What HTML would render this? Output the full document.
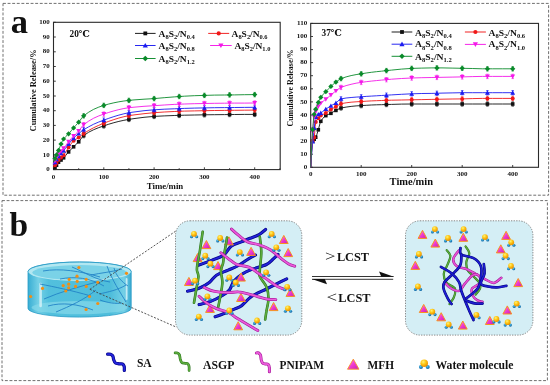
<!DOCTYPE html>
<html><head><meta charset="utf-8"><title>Figure</title>
<style>html,body{margin:0;padding:0;background:#fff}svg{display:block}text{font-family:"Liberation Serif","DejaVu Serif","Noto Serif CJK SC",serif;fill:#111}.c{fill:none;stroke-linecap:round;stroke-linejoin:round}</style>
</head><body>
<svg width="550" height="385" viewBox="0 0 550 385">
<rect width="550" height="385" fill="#fff"/>
<defs>
<radialGradient id="gy" cx="0.38" cy="0.32" r="0.7"><stop offset="0" stop-color="#fff27a"/><stop offset="0.45" stop-color="#ffc916"/><stop offset="1" stop-color="#e88a00"/></radialGradient>
<radialGradient id="gb" cx="0.4" cy="0.35" r="0.7"><stop offset="0" stop-color="#4fc4ee"/><stop offset="1" stop-color="#075a9c"/></radialGradient>
<linearGradient id="gt" x1="0" y1="0" x2="1" y2="1"><stop offset="0" stop-color="#ff8ae6"/><stop offset="0.5" stop-color="#f03cd0"/><stop offset="1" stop-color="#c81eb0"/></linearGradient>
<g id="w"><circle cx="-2.5" cy="2.9" r="1.55" fill="url(#gb)"/><circle cx="2.7" cy="2.9" r="1.55" fill="url(#gb)"/><circle cx="0" cy="0" r="2.9" fill="url(#gy)"/></g>
<path id="t" d="M0 0L4.4 8.1L-4.4 8.1Z" fill="url(#gt)" stroke="#f7931e" stroke-width="1" stroke-linejoin="round"/>
<linearGradient id="cylb" x1="0" y1="0" x2="1" y2="0"><stop offset="0" stop-color="#38add3"/><stop offset="0.1" stop-color="#74d0e6"/><stop offset="0.2" stop-color="#52c0dd"/><stop offset="0.8" stop-color="#4ebddb"/><stop offset="0.93" stop-color="#74d0e6"/><stop offset="1" stop-color="#38a9d0"/></linearGradient>
<path id="c1" class="c" d="M198.4 265.2C200.7 264.4 208.0 261.8 212.2 260.1C216.4 258.4 220.7 257.3 223.8 255.0C227.0 252.7 228.2 248.5 231.1 246.3C234.0 244.1 238.2 243.2 241.3 241.9C244.5 240.6 247.0 239.5 250.0 238.3C253.0 237.1 256.5 236.1 259.1 234.6C261.7 233.1 264.5 230.3 265.6 229.5"/>
<path id="c2" class="c" d="M187.5 291.2C189.4 290.7 195.5 289.8 199.1 288.3C202.7 286.9 206.4 284.7 209.3 282.5C212.2 280.3 213.3 277.3 216.5 275.2C219.7 273.1 224.5 271.7 228.2 270.1C231.8 268.5 234.9 267.4 238.4 265.5C241.9 263.6 246.1 260.4 248.9 258.6C251.8 256.9 254.4 255.6 255.5 255.0"/>
<path id="c3" class="c" d="M199.1 304.6C201.0 304.1 206.8 302.9 210.7 301.4C214.6 299.9 219.2 297.4 222.4 295.5C225.6 293.6 227.7 292.1 229.6 289.7C231.5 287.3 231.8 283.7 234.0 281.0C236.2 278.3 239.7 275.6 242.7 273.7C245.7 271.8 247.9 270.9 251.8 269.4C255.8 267.9 262.8 266.3 266.4 264.5C270.0 262.7 271.7 260.3 273.6 258.6C275.5 256.9 277.3 255.0 278.0 254.3"/>
<path id="c4" class="c" d="M215.1 316.8C216.8 316.2 221.9 314.4 225.3 313.0C228.7 311.6 232.8 309.8 235.5 308.6C238.2 307.4 238.9 307.8 241.6 305.7C244.3 303.6 247.7 299.1 251.8 296.3C255.9 293.5 262.0 291.2 266.4 289.0C270.8 286.8 274.6 284.9 278.0 283.2C281.4 281.5 285.2 279.5 286.7 278.8"/>
<path id="c5" class="c" d="M202.7 231.7C202.5 233.3 201.8 237.9 201.3 241.2C200.8 244.5 200.4 247.8 199.8 251.4C199.2 255.0 198.1 259.9 197.6 263.0C197.1 266.1 196.8 267.7 196.9 270.0C197.0 272.3 198.5 273.3 198.4 276.6C198.3 279.9 196.9 285.3 196.2 289.7C195.5 294.1 194.4 300.6 194.0 302.8"/>
<path id="c6" class="c" d="M227.0 237.5C226.8 238.6 226.5 241.3 226.0 244.1C225.5 246.9 224.6 251.2 224.1 254.3C223.6 257.4 223.6 260.2 223.1 263.0C222.6 265.8 221.0 267.6 220.9 270.8C220.8 274.1 222.5 278.1 222.4 282.5C222.3 286.9 220.9 292.8 220.2 297.0C219.5 301.2 218.4 306.1 218.0 307.9"/>
<path id="c7" class="c" d="M259.8 236.8C260.1 239.2 261.2 247.0 261.3 251.4C261.4 255.8 260.8 259.9 260.5 263.0C260.2 266.1 259.9 267.7 259.8 270.0C259.7 272.3 258.7 273.8 259.8 276.6C260.9 279.4 264.9 283.2 266.4 286.8C267.8 290.4 268.5 294.4 268.5 298.5C268.5 302.6 266.9 308.0 266.4 311.5C265.8 315.0 265.4 318.2 265.2 319.5"/>
<path id="c8" class="c" d="M231.5 229.1C232.7 230.2 236.0 233.3 238.7 235.4C241.4 237.5 244.1 240.3 247.5 241.9C250.9 243.5 255.2 243.5 259.1 244.8C263.0 246.1 267.3 247.8 270.7 249.9C274.1 252.0 276.6 254.9 279.5 257.2C282.4 259.5 285.7 262.2 288.2 263.7C290.7 265.2 293.6 265.8 294.7 266.2"/>
<path id="c9" class="c" d="M220.9 252.8C222.1 253.8 225.5 256.7 228.2 258.6C230.9 260.6 233.4 263.1 236.9 264.5C240.4 265.9 245.2 265.7 248.9 267.2C252.6 268.7 255.7 271.4 259.1 273.7C262.5 276.0 266.2 278.8 269.3 281.0C272.4 283.2 275.3 285.4 278.0 286.8C280.7 288.2 284.1 289.2 285.3 289.7"/>
<path id="c10" class="c" d="M204.2 287.5C205.8 288.1 209.6 290.3 213.6 291.2C217.6 292.1 224.1 292.5 228.2 292.6C232.3 292.7 234.9 291.6 238.4 291.9C241.9 292.1 245.4 293.2 248.9 294.1C252.4 295.0 256.0 296.1 259.1 297.0C262.2 297.9 265.0 298.8 267.8 299.2C270.6 299.6 274.5 299.5 275.8 299.6"/>
<path id="c11" class="c" d="M199.1 296.3C200.3 297.4 203.5 300.8 206.4 302.8C209.3 304.9 212.8 307.0 216.5 308.6C220.2 310.2 225.3 311.0 228.5 312.5C231.7 314.0 233.7 316.1 235.8 317.5C237.9 318.9 237.6 318.6 241.3 320.8C245.0 323.0 255.1 329.0 257.8 330.6"/>
<path id="c12" class="c" d="M446.7 250.2C447.3 251.2 450.3 253.6 450.4 256.0C450.5 258.4 448.6 261.8 447.5 264.7C446.4 267.6 444.1 270.6 443.8 273.5C443.6 276.4 444.6 280.0 446.0 282.2C447.4 284.4 450.9 285.3 452.5 286.5C454.1 287.7 455.1 287.7 455.3 289.5C455.5 291.3 454.8 295.1 453.8 297.5C452.8 299.9 450.2 302.9 449.5 304.0"/>
<path id="c13" class="c" d="M465.6 246.5C466.2 247.6 469.2 250.5 469.3 253.1C469.4 255.7 466.6 258.9 466.4 261.8C466.1 264.7 466.6 268.1 467.8 270.5C469.0 272.9 471.7 274.3 473.6 276.4C475.6 278.5 478.4 280.9 479.5 283.0C480.6 285.1 480.6 286.8 480.0 288.7C479.4 290.6 476.3 293.5 475.6 294.5"/>
<path id="c14" class="c" d="M459.1 250.2C458.1 251.6 453.7 256.2 453.3 258.9C452.9 261.6 454.7 264.5 456.9 266.2C459.1 267.9 463.4 267.9 466.4 269.1C469.4 270.3 472.0 271.8 475.1 273.5C478.2 275.2 482.2 277.7 485.3 279.3C488.4 280.9 491.3 283.1 494.0 282.9C496.7 282.6 500.1 278.6 501.3 277.8"/>
<path id="c15" class="c" d="M444.5 282.2C445.5 283.2 448.0 286.6 450.4 288.0C452.8 289.4 456.7 291.6 459.1 290.9C461.5 290.2 462.7 286.2 464.9 283.6C467.1 281.1 470.0 277.1 472.2 275.6C474.4 274.2 476.6 273.8 478.0 274.9C479.4 276.0 481.9 279.9 480.9 282.2C479.9 284.5 473.3 286.4 472.0 288.7C470.7 291.0 472.1 294.1 473.0 296.0C473.9 297.9 475.9 299.4 477.5 300.4C479.1 301.4 481.7 301.6 482.5 301.8"/>
<path id="c16" class="c" d="M460.5 248.0C460.6 249.1 459.1 252.8 461.3 254.5C463.5 256.2 470.3 256.2 473.6 258.2C476.9 260.1 479.7 262.9 480.9 266.2C482.1 269.5 481.4 274.2 480.9 277.8C480.4 281.4 479.6 285.2 478.0 288.0C476.4 290.8 473.4 292.7 471.3 294.5C469.2 296.3 466.5 298.2 465.5 298.9"/>
<path id="c17" class="c" d="M461.3 254.5C461.2 256.2 461.8 261.5 460.5 264.7C459.2 267.9 456.0 270.6 453.3 273.5C450.6 276.4 446.1 279.7 444.5 282.2C442.9 284.7 443.0 285.9 443.6 288.7C444.2 291.5 446.7 296.3 448.0 298.9C449.3 301.4 451.0 303.1 451.6 304.0"/>
<path id="c18" class="c" d="M440.9 266.9C442.7 268.0 448.8 270.9 451.8 273.5C454.8 276.1 457.6 279.4 459.1 282.2C460.7 285.0 460.0 286.9 461.1 290.2C462.2 293.5 464.1 298.2 465.5 301.8C466.9 305.4 468.5 309.0 469.8 312.0C471.1 315.0 472.9 318.7 473.5 320.0"/>
<path id="c19" class="c" d="M483.8 264.0C483.9 265.6 485.0 270.2 484.5 273.5C484.0 276.8 480.3 281.4 480.9 283.6C481.5 285.8 485.5 285.9 488.2 286.5C490.9 287.1 493.9 287.4 496.9 287.3C499.9 287.2 504.8 286.1 506.4 285.8"/>
<path id="c20" class="c" d="M465.8 300.4C467.2 300.9 471.7 302.8 474.5 303.3C477.3 303.8 481.2 303.6 482.5 303.6"/>
<path id="c21" class="c" d="M107.6 354.2C108.1 354.2 109.6 354.0 110.5 354.3C111.4 354.6 112.2 355.1 112.8 356.0C113.3 356.9 113.3 358.8 113.8 360.0C114.2 361.2 114.6 362.4 115.5 363.0C116.4 363.6 117.8 363.6 119.0 363.8C120.2 364.0 121.6 363.6 122.5 364.0C123.4 364.4 123.9 365.4 124.2 366.5C124.5 367.6 124.3 369.8 124.3 370.5"/>
<path id="c22" class="c" d="M175.1 352.9C175.5 352.9 176.8 352.7 177.5 353.0C178.3 353.3 179.0 353.8 179.5 354.9C179.9 355.9 179.9 357.9 180.3 359.2C180.7 360.4 181.0 361.7 181.7 362.4C182.5 363.1 183.7 363.1 184.7 363.3C185.7 363.5 186.9 363.0 187.6 363.5C188.3 364.0 188.8 365.0 189.0 366.2C189.3 367.4 189.1 369.8 189.1 370.5"/>
<path id="c23" class="c" d="M256.4 352.9C256.8 352.9 258.0 352.7 258.7 353.0C259.3 353.4 260.0 353.9 260.5 355.0C260.9 356.1 260.9 358.3 261.2 359.6C261.6 360.9 261.9 362.3 262.6 363.1C263.2 363.8 264.4 363.8 265.3 364.0C266.2 364.2 267.3 363.7 268.0 364.2C268.7 364.7 269.1 365.8 269.3 367.1C269.6 368.3 269.4 370.9 269.4 371.7"/></defs>
<rect x="3" y="3.4" width="545.6" height="191.8" fill="none" stroke="#707070" stroke-width="1" stroke-dasharray="2.9 1.7"/>
<rect x="2" y="200.6" width="545.4" height="180" fill="none" stroke="#707070" stroke-width="1" stroke-dasharray="2.9 1.7"/>
<text x="10.8" y="33.3" font-size="34.5" font-weight="bold">a</text>
<text x="9.4" y="235.6" font-size="33.5" font-weight="bold">b</text>
<rect x="53.5" y="22.3" width="226.7" height="147.3" fill="#fff" stroke="#2a2a2a" stroke-width="1.1"/>
<text x="49.6" y="171.2" font-size="6.9" font-weight="bold" text-anchor="end">0</text>
<text x="49.6" y="156.5" font-size="6.9" font-weight="bold" text-anchor="end">10</text>
<text x="49.6" y="141.7" font-size="6.9" font-weight="bold" text-anchor="end">20</text>
<text x="49.6" y="127.0" font-size="6.9" font-weight="bold" text-anchor="end">30</text>
<text x="49.6" y="112.3" font-size="6.9" font-weight="bold" text-anchor="end">40</text>
<text x="49.6" y="97.5" font-size="6.9" font-weight="bold" text-anchor="end">50</text>
<text x="49.6" y="82.8" font-size="6.9" font-weight="bold" text-anchor="end">60</text>
<text x="49.6" y="68.1" font-size="6.9" font-weight="bold" text-anchor="end">70</text>
<text x="49.6" y="53.3" font-size="6.9" font-weight="bold" text-anchor="end">80</text>
<text x="49.6" y="38.6" font-size="6.9" font-weight="bold" text-anchor="end">90</text>
<text x="49.6" y="23.9" font-size="6.9" font-weight="bold" text-anchor="end">100</text>
<text x="53.5" y="178.6" font-size="6.9" font-weight="bold" text-anchor="middle">0</text>
<text x="103.8" y="178.6" font-size="6.9" font-weight="bold" text-anchor="middle">100</text>
<text x="154.1" y="178.6" font-size="6.9" font-weight="bold" text-anchor="middle">200</text>
<text x="204.4" y="178.6" font-size="6.9" font-weight="bold" text-anchor="middle">300</text>
<text x="254.7" y="178.6" font-size="6.9" font-weight="bold" text-anchor="middle">400</text>
<path d="M53.5 169.6h2.3M53.5 154.9h2.3M53.5 140.1h2.3M53.5 125.4h2.3M53.5 110.7h2.3M53.5 96.0h2.3M53.5 81.2h2.3M53.5 66.5h2.3M53.5 51.8h2.3M53.5 37.0h2.3M53.5 22.3h2.3M53.5 169.6v-2.3M103.8 169.6v-2.3M154.1 169.6v-2.3M204.4 169.6v-2.3M254.7 169.6v-2.3M78.7 169.6v-1.4M128.9 169.6v-1.4M179.2 169.6v-1.4M229.6 169.6v-1.4M279.9 169.6v-1.4" stroke="#2a2a2a" stroke-width="0.9" fill="none"/>
<text transform="translate(35.5 90.4) rotate(-90)" font-size="8.6" font-weight="bold" text-anchor="middle" textLength="82.0" lengthAdjust="spacingAndGlyphs">Cumulative Release/%</text>
<text x="165.0" y="188.7" font-size="9.0" font-weight="bold" text-anchor="middle" textLength="36.5" lengthAdjust="spacingAndGlyphs">Time/min</text>
<text x="69.5" y="36.5" font-size="9.3" font-weight="bold">20℃</text>
<path d="M53.5 168.9L54.0 168.4L54.5 168.0L55.0 167.4L55.5 166.7L56.0 166.0L56.5 165.2L57.0 164.4L57.5 163.6L58.0 162.9L58.5 162.2L59.0 161.7L59.5 161.3L60.0 160.9L60.5 160.4L61.0 160.0L61.5 159.6L62.1 159.2L62.6 158.7L63.1 158.3L63.6 157.8L65.6 155.6L67.6 153.1L69.6 150.8L71.6 148.8L73.6 146.8L75.6 144.8L77.6 142.8L79.7 140.5L81.7 137.8L83.7 135.6L88.7 132.2L93.7 129.7L98.8 127.6L103.8 125.9L108.8 124.2L113.9 122.7L118.9 121.4L123.9 120.3L128.9 119.4L134.0 118.6L144.0 117.3L154.1 116.4L164.2 115.9L174.2 115.5L184.3 115.2L194.3 115.0L204.4 114.8L214.5 114.7L224.5 114.6L234.6 114.5L244.6 114.4L254.7 114.4" fill="none" stroke="#111111" stroke-width="0.9" stroke-linejoin="round"/>
<path d="M83.7 133.4v4.4M82.4 133.4h2.6M82.4 137.8h2.6M103.8 123.7v4.4M102.5 123.7h2.6M102.5 128.1h2.6M128.9 117.2v4.4M127.6 117.2h2.6M127.6 121.6h2.6M154.1 114.2v4.4M152.8 114.2h2.6M152.8 118.6h2.6M179.2 113.2v4.4M177.9 113.2h2.6M177.9 117.6h2.6M204.4 112.6v4.4M203.1 112.6h2.6M203.1 117.0h2.6M229.6 112.3v4.4M228.2 112.3h2.6M228.2 116.7h2.6M254.7 112.2v4.4M253.4 112.2h2.6M253.4 116.6h2.6" stroke="#111111" stroke-width="0.6" fill="none"/>
<rect x="53.2" y="165.6" width="3.6" height="3.6" fill="#111111"/><rect x="54.7" y="163.4" width="3.6" height="3.6" fill="#111111"/><rect x="56.7" y="160.4" width="3.6" height="3.6" fill="#111111"/><rect x="59.2" y="158.2" width="3.6" height="3.6" fill="#111111"/><rect x="61.8" y="156.0" width="3.6" height="3.6" fill="#111111"/><rect x="66.8" y="150.1" width="3.6" height="3.6" fill="#111111"/><rect x="71.8" y="145.0" width="3.6" height="3.6" fill="#111111"/><rect x="76.9" y="140.0" width="3.6" height="3.6" fill="#111111"/><rect x="81.9" y="133.8" width="3.6" height="3.6" fill="#111111"/><rect x="102.0" y="124.1" width="3.6" height="3.6" fill="#111111"/><rect x="127.1" y="117.6" width="3.6" height="3.6" fill="#111111"/><rect x="152.3" y="114.6" width="3.6" height="3.6" fill="#111111"/><rect x="177.4" y="113.6" width="3.6" height="3.6" fill="#111111"/><rect x="202.6" y="113.0" width="3.6" height="3.6" fill="#111111"/><rect x="227.8" y="112.7" width="3.6" height="3.6" fill="#111111"/><rect x="252.9" y="112.6" width="3.6" height="3.6" fill="#111111"/>
<path d="M53.5 167.4L54.0 166.7L54.5 165.9L55.0 165.2L55.5 164.4L56.0 163.7L56.5 163.0L57.0 162.2L57.5 161.4L58.0 160.7L58.5 160.0L59.0 159.5L59.5 158.9L60.0 158.5L60.5 158.0L61.0 157.5L61.5 157.1L62.1 156.6L62.6 156.2L63.1 155.7L63.6 155.2L65.6 152.3L67.6 149.0L69.6 146.0L71.6 143.0L73.6 140.7L75.6 139.4L77.6 138.3L79.7 136.9L81.7 135.1L83.7 133.5L88.7 130.4L93.7 127.7L98.8 125.3L103.8 123.2L108.8 121.3L113.9 119.6L118.9 118.0L123.9 116.7L128.9 115.7L134.0 114.9L144.0 113.7L154.1 112.7L164.2 112.0L174.2 111.5L184.3 111.1L194.3 110.9L204.4 110.7L214.5 110.5L224.5 110.4L234.6 110.3L244.6 110.2L254.7 110.1" fill="none" stroke="#f01818" stroke-width="0.9" stroke-linejoin="round"/>
<path d="M83.7 131.3v4.4M82.4 131.3h2.6M82.4 135.7h2.6M103.8 121.0v4.4M102.5 121.0h2.6M102.5 125.4h2.6M128.9 113.5v4.4M127.6 113.5h2.6M127.6 117.9h2.6M154.1 110.5v4.4M152.8 110.5h2.6M152.8 114.9h2.6M179.2 109.1v4.4M177.9 109.1h2.6M177.9 113.5h2.6M204.4 108.5v4.4M203.1 108.5h2.6M203.1 112.9h2.6M229.6 108.2v4.4M228.2 108.2h2.6M228.2 112.6h2.6M254.7 107.9v4.4M253.4 107.9h2.6M253.4 112.3h2.6" stroke="#f01818" stroke-width="0.6" fill="none"/>
<circle cx="55.0" cy="165.2" r="2.0" fill="#f01818"/><circle cx="56.5" cy="163.0" r="2.0" fill="#f01818"/><circle cx="58.5" cy="160.0" r="2.0" fill="#f01818"/><circle cx="61.0" cy="157.5" r="2.0" fill="#f01818"/><circle cx="63.6" cy="155.2" r="2.0" fill="#f01818"/><circle cx="68.6" cy="147.5" r="2.0" fill="#f01818"/><circle cx="73.6" cy="140.7" r="2.0" fill="#f01818"/><circle cx="78.7" cy="137.6" r="2.0" fill="#f01818"/><circle cx="83.7" cy="133.5" r="2.0" fill="#f01818"/><circle cx="103.8" cy="123.2" r="2.0" fill="#f01818"/><circle cx="128.9" cy="115.7" r="2.0" fill="#f01818"/><circle cx="154.1" cy="112.7" r="2.0" fill="#f01818"/><circle cx="179.2" cy="111.3" r="2.0" fill="#f01818"/><circle cx="204.4" cy="110.7" r="2.0" fill="#f01818"/><circle cx="229.6" cy="110.4" r="2.0" fill="#f01818"/><circle cx="254.7" cy="110.1" r="2.0" fill="#f01818"/>
<path d="M53.5 165.2L54.0 164.2L54.5 163.2L55.0 162.2L55.5 161.2L56.0 160.2L56.5 159.3L57.0 158.5L57.5 157.7L58.0 157.0L58.5 156.3L59.0 155.7L59.5 155.1L60.0 154.5L60.5 154.0L61.0 153.4L61.5 152.9L62.1 152.3L62.6 151.8L63.1 151.3L63.6 150.7L65.6 148.2L67.6 145.4L69.6 142.9L71.6 140.4L73.6 138.2L75.6 136.3L77.6 134.5L79.7 132.8L81.7 131.1L83.7 129.7L88.7 126.8L93.7 124.2L98.8 122.0L103.8 120.1L108.8 118.3L113.9 116.6L118.9 115.1L123.9 113.8L128.9 112.7L134.0 112.0L144.0 110.7L154.1 109.8L164.2 109.2L174.2 108.8L184.3 108.4L194.3 108.1L204.4 107.9L214.5 107.7L224.5 107.6L234.6 107.5L244.6 107.4L254.7 107.3" fill="none" stroke="#1c1cf0" stroke-width="0.9" stroke-linejoin="round"/>
<path d="M83.7 127.5v4.4M82.4 127.5h2.6M82.4 131.9h2.6M103.8 117.9v4.4M102.5 117.9h2.6M102.5 122.3h2.6M128.9 110.5v4.4M127.6 110.5h2.6M127.6 114.9h2.6M154.1 107.6v4.4M152.8 107.6h2.6M152.8 112.0h2.6M179.2 106.4v4.4M177.9 106.4h2.6M177.9 110.8h2.6M204.4 105.7v4.4M203.1 105.7h2.6M203.1 110.1h2.6M229.6 105.4v4.4M228.2 105.4h2.6M228.2 109.8h2.6M254.7 105.1v4.4M253.4 105.1h2.6M253.4 109.5h2.6" stroke="#1c1cf0" stroke-width="0.6" fill="none"/>
<path d="M55.0 159.8L57.4 164.2L52.6 164.2Z" fill="#1c1cf0"/><path d="M56.5 156.9L58.9 161.2L54.1 161.2Z" fill="#1c1cf0"/><path d="M58.5 153.9L61.0 158.3L56.1 158.3Z" fill="#1c1cf0"/><path d="M61.0 151.0L63.5 155.3L58.6 155.3Z" fill="#1c1cf0"/><path d="M63.6 148.3L66.0 152.7L61.1 152.7Z" fill="#1c1cf0"/><path d="M68.6 141.7L71.0 146.1L66.2 146.1Z" fill="#1c1cf0"/><path d="M73.6 135.8L76.1 140.2L71.2 140.2Z" fill="#1c1cf0"/><path d="M78.7 131.2L81.1 135.6L76.2 135.6Z" fill="#1c1cf0"/><path d="M83.7 127.3L86.1 131.6L81.2 131.6Z" fill="#1c1cf0"/><path d="M103.8 117.7L106.2 122.1L101.4 122.1Z" fill="#1c1cf0"/><path d="M128.9 110.3L131.4 114.7L126.5 114.7Z" fill="#1c1cf0"/><path d="M154.1 107.4L156.5 111.7L151.7 111.7Z" fill="#1c1cf0"/><path d="M179.2 106.2L181.7 110.6L176.8 110.6Z" fill="#1c1cf0"/><path d="M204.4 105.5L206.8 109.8L202.0 109.8Z" fill="#1c1cf0"/><path d="M229.6 105.2L232.0 109.5L227.1 109.5Z" fill="#1c1cf0"/><path d="M254.7 104.9L257.1 109.2L252.3 109.2Z" fill="#1c1cf0"/>
<path d="M53.5 163.7L54.0 162.7L54.5 161.7L55.0 160.8L55.5 159.8L56.0 158.8L56.5 157.8L57.0 156.8L57.5 155.9L58.0 154.9L58.5 154.1L59.0 153.5L59.5 152.9L60.0 152.3L60.5 151.8L61.0 151.2L61.5 150.6L62.1 150.0L62.6 149.4L63.1 148.8L63.6 148.2L65.6 145.7L67.6 143.0L69.6 140.6L71.6 138.2L73.6 136.0L75.6 134.0L77.6 132.1L79.7 129.8L81.7 127.0L83.7 124.7L88.7 121.1L93.7 118.2L98.8 115.9L103.8 114.1L108.8 112.4L113.9 110.9L118.9 109.6L123.9 108.5L128.9 107.7L134.0 107.2L144.0 106.3L154.1 105.7L164.2 105.0L174.2 104.4L184.3 104.0L194.3 103.7L204.4 103.5L214.5 103.3L224.5 103.2L234.6 103.1L244.6 103.1L254.7 103.0" fill="none" stroke="#f418e8" stroke-width="0.9" stroke-linejoin="round"/>
<path d="M83.7 122.5v4.4M82.4 122.5h2.6M82.4 126.9h2.6M103.8 111.9v4.4M102.5 111.9h2.6M102.5 116.3h2.6M128.9 105.5v4.4M127.6 105.5h2.6M127.6 109.9h2.6M154.1 103.5v4.4M152.8 103.5h2.6M152.8 107.9h2.6M179.2 102.0v4.4M177.9 102.0h2.6M177.9 106.4h2.6M204.4 101.3v4.4M203.1 101.3h2.6M203.1 105.7h2.6M229.6 101.0v4.4M228.2 101.0h2.6M228.2 105.4h2.6M254.7 100.8v4.4M253.4 100.8h2.6M253.4 105.2h2.6" stroke="#f418e8" stroke-width="0.6" fill="none"/>
<path d="M55.0 163.2L57.4 158.8L52.6 158.8Z" fill="#f418e8"/><path d="M56.5 160.2L58.9 155.9L54.1 155.9Z" fill="#f418e8"/><path d="M58.5 156.6L61.0 152.2L56.1 152.2Z" fill="#f418e8"/><path d="M61.0 153.6L63.5 149.2L58.6 149.2Z" fill="#f418e8"/><path d="M63.6 150.7L66.0 146.3L61.1 146.3Z" fill="#f418e8"/><path d="M68.6 144.2L71.0 139.8L66.2 139.8Z" fill="#f418e8"/><path d="M73.6 138.4L76.1 134.1L71.2 134.1Z" fill="#f418e8"/><path d="M78.7 133.4L81.1 129.1L76.2 129.1Z" fill="#f418e8"/><path d="M83.7 127.1L86.1 122.7L81.2 122.7Z" fill="#f418e8"/><path d="M103.8 116.5L106.2 112.1L101.4 112.1Z" fill="#f418e8"/><path d="M128.9 110.2L131.4 105.8L126.5 105.8Z" fill="#f418e8"/><path d="M154.1 108.1L156.5 103.7L151.7 103.7Z" fill="#f418e8"/><path d="M179.2 106.6L181.7 102.3L176.8 102.3Z" fill="#f418e8"/><path d="M204.4 105.9L206.8 101.5L202.0 101.5Z" fill="#f418e8"/><path d="M229.6 105.6L232.0 101.2L227.1 101.2Z" fill="#f418e8"/><path d="M254.7 105.5L257.1 101.1L252.3 101.1Z" fill="#f418e8"/>
<path d="M53.5 162.2L54.0 161.0L54.5 159.8L55.0 158.6L55.5 157.3L56.0 156.1L56.5 154.9L57.0 153.7L57.5 152.7L58.0 151.6L58.5 150.5L59.0 149.2L59.5 147.9L60.0 146.5L60.5 145.2L61.0 144.0L61.5 142.8L62.1 141.7L62.6 140.7L63.1 139.8L63.6 139.0L65.6 136.7L67.6 134.8L69.6 132.7L71.6 130.3L73.6 127.9L75.6 125.6L77.6 123.4L79.7 120.9L81.7 118.1L83.7 115.8L88.7 112.2L93.7 109.3L98.8 107.1L103.8 105.4L108.8 104.0L113.9 102.8L118.9 101.8L123.9 101.0L128.9 100.4L134.0 99.9L144.0 99.2L154.1 98.6L164.2 97.7L174.2 96.9L184.3 96.2L194.3 95.7L204.4 95.4L214.5 95.1L224.5 95.0L234.6 94.9L244.6 94.7L254.7 94.6" fill="none" stroke="#0a8a2a" stroke-width="0.9" stroke-linejoin="round"/>
<path d="M83.7 113.6v4.4M82.4 113.6h2.6M82.4 118.0h2.6M103.8 103.2v4.4M102.5 103.2h2.6M102.5 107.6h2.6M128.9 98.2v4.4M127.6 98.2h2.6M127.6 102.6h2.6M154.1 96.4v4.4M152.8 96.4h2.6M152.8 100.8h2.6M179.2 94.3v4.4M177.9 94.3h2.6M177.9 98.7h2.6M204.4 93.2v4.4M203.1 93.2h2.6M203.1 97.6h2.6M229.6 92.7v4.4M228.2 92.7h2.6M228.2 97.1h2.6M254.7 92.4v4.4M253.4 92.4h2.6M253.4 96.8h2.6" stroke="#0a8a2a" stroke-width="0.6" fill="none"/>
<path d="M55.0 155.9L57.6 158.6L55.0 161.2L52.4 158.6Z" fill="#0a8a2a"/><path d="M56.5 152.3L59.1 154.9L56.5 157.5L53.9 154.9Z" fill="#0a8a2a"/><path d="M58.5 147.8L61.1 150.5L58.5 153.1L55.9 150.5Z" fill="#0a8a2a"/><path d="M61.0 141.4L63.7 144.0L61.0 146.6L58.4 144.0Z" fill="#0a8a2a"/><path d="M63.6 136.4L66.2 139.0L63.6 141.6L61.0 139.0Z" fill="#0a8a2a"/><path d="M68.6 131.2L71.2 133.8L68.6 136.4L66.0 133.8Z" fill="#0a8a2a"/><path d="M73.6 125.3L76.2 127.9L73.6 130.5L71.0 127.9Z" fill="#0a8a2a"/><path d="M78.7 119.6L81.3 122.2L78.7 124.8L76.0 122.2Z" fill="#0a8a2a"/><path d="M83.7 113.2L86.3 115.8L83.7 118.4L81.1 115.8Z" fill="#0a8a2a"/><path d="M103.8 102.8L106.4 105.4L103.8 108.0L101.2 105.4Z" fill="#0a8a2a"/><path d="M128.9 97.8L131.6 100.4L128.9 103.0L126.3 100.4Z" fill="#0a8a2a"/><path d="M154.1 96.0L156.7 98.6L154.1 101.2L151.5 98.6Z" fill="#0a8a2a"/><path d="M179.2 93.9L181.9 96.5L179.2 99.1L176.6 96.5Z" fill="#0a8a2a"/><path d="M204.4 92.8L207.0 95.4L204.4 98.0L201.8 95.4Z" fill="#0a8a2a"/><path d="M229.6 92.3L232.2 94.9L229.6 97.5L226.9 94.9Z" fill="#0a8a2a"/><path d="M254.7 92.0L257.3 94.6L254.7 97.2L252.1 94.6Z" fill="#0a8a2a"/>
<path d="M135.0 33.4H155.6" stroke="#111111" stroke-width="0.95"/>
<rect x="143.4" y="31.5" width="3.8" height="3.8" fill="#111111"/>
<text x="158.6" y="36.5" font-size="8.8" font-weight="bold" textLength="36.2" lengthAdjust="spacingAndGlyphs">A<tspan font-size="6" dy="2.2">8</tspan><tspan dy="-2.2">S</tspan><tspan font-size="6" dy="2.2">2</tspan><tspan dy="-2.2">/N</tspan><tspan font-size="6" dy="2.2">0.4</tspan></text>
<path d="M208.2 33.4H229.2" stroke="#f01818" stroke-width="0.95"/>
<circle cx="218.7" cy="33.4" r="2.1" fill="#f01818"/>
<text x="231.6" y="36.5" font-size="8.8" font-weight="bold" textLength="36.0" lengthAdjust="spacingAndGlyphs">A<tspan font-size="6" dy="2.2">8</tspan><tspan dy="-2.2">S</tspan><tspan font-size="6" dy="2.2">2</tspan><tspan dy="-2.2">/N</tspan><tspan font-size="6" dy="2.2">0.6</tspan></text>
<path d="M135.0 45.5H155.6" stroke="#1c1cf0" stroke-width="0.95"/>
<path d="M145.3 42.9L147.9 47.6L142.7 47.6Z" fill="#1c1cf0"/>
<text x="158.6" y="48.9" font-size="8.8" font-weight="bold" textLength="36.2" lengthAdjust="spacingAndGlyphs">A<tspan font-size="6" dy="2.2">8</tspan><tspan dy="-2.2">S</tspan><tspan font-size="6" dy="2.2">2</tspan><tspan dy="-2.2">/N</tspan><tspan font-size="6" dy="2.2">0.8</tspan></text>
<path d="M210.1 45.5H231.7" stroke="#f418e8" stroke-width="0.95"/>
<path d="M220.9 48.1L223.5 43.4L218.3 43.4Z" fill="#f418e8"/>
<text x="234.4" y="48.9" font-size="8.8" font-weight="bold" textLength="36.0" lengthAdjust="spacingAndGlyphs">A<tspan font-size="6" dy="2.2">8</tspan><tspan dy="-2.2">S</tspan><tspan font-size="6" dy="2.2">2</tspan><tspan dy="-2.2">/N</tspan><tspan font-size="6" dy="2.2">1.0</tspan></text>
<path d="M135.0 58.5H155.6" stroke="#0a8a2a" stroke-width="0.95"/>
<path d="M145.3 55.7L148.1 58.5L145.3 61.3L142.5 58.5Z" fill="#0a8a2a"/>
<text x="158.6" y="61.9" font-size="8.8" font-weight="bold" textLength="36.2" lengthAdjust="spacingAndGlyphs">A<tspan font-size="6" dy="2.2">8</tspan><tspan dy="-2.2">S</tspan><tspan font-size="6" dy="2.2">2</tspan><tspan dy="-2.2">/N</tspan><tspan font-size="6" dy="2.2">1.2</tspan></text>
<rect x="310.7" y="23.4" width="227.8" height="143.9" fill="#fff" stroke="#2a2a2a" stroke-width="1.1"/>
<text x="307.2" y="168.9" font-size="7.0" font-weight="bold" text-anchor="end">0</text>
<text x="307.2" y="155.8" font-size="7.0" font-weight="bold" text-anchor="end">10</text>
<text x="307.2" y="142.7" font-size="7.0" font-weight="bold" text-anchor="end">20</text>
<text x="307.2" y="129.7" font-size="7.0" font-weight="bold" text-anchor="end">30</text>
<text x="307.2" y="116.6" font-size="7.0" font-weight="bold" text-anchor="end">40</text>
<text x="307.2" y="103.5" font-size="7.0" font-weight="bold" text-anchor="end">50</text>
<text x="307.2" y="90.4" font-size="7.0" font-weight="bold" text-anchor="end">60</text>
<text x="307.2" y="77.3" font-size="7.0" font-weight="bold" text-anchor="end">70</text>
<text x="307.2" y="64.3" font-size="7.0" font-weight="bold" text-anchor="end">80</text>
<text x="307.2" y="51.2" font-size="7.0" font-weight="bold" text-anchor="end">90</text>
<text x="307.2" y="38.1" font-size="7.0" font-weight="bold" text-anchor="end">100</text>
<text x="307.2" y="25.0" font-size="7.0" font-weight="bold" text-anchor="end">110</text>
<text x="310.7" y="175.8" font-size="7.0" font-weight="bold" text-anchor="middle">0</text>
<text x="361.2" y="175.8" font-size="7.0" font-weight="bold" text-anchor="middle">100</text>
<text x="411.7" y="175.8" font-size="7.0" font-weight="bold" text-anchor="middle">200</text>
<text x="462.2" y="175.8" font-size="7.0" font-weight="bold" text-anchor="middle">300</text>
<text x="512.7" y="175.8" font-size="7.0" font-weight="bold" text-anchor="middle">400</text>
<path d="M310.7 167.3h2.3M310.7 154.2h2.3M310.7 141.1h2.3M310.7 128.1h2.3M310.7 115.0h2.3M310.7 101.9h2.3M310.7 88.8h2.3M310.7 75.7h2.3M310.7 62.6h2.3M310.7 49.6h2.3M310.7 36.5h2.3M310.7 23.4h2.3M310.7 167.3v-2.3M361.2 167.3v-2.3M411.7 167.3v-2.3M462.2 167.3v-2.3M512.7 167.3v-2.3" stroke="#2a2a2a" stroke-width="0.9" fill="none"/>
<text transform="translate(292.6 88.0) rotate(-90)" font-size="7.7" font-weight="bold" text-anchor="middle" textLength="77.0" lengthAdjust="spacingAndGlyphs">Cumulative Release/%</text>
<text x="411.3" y="185.2" font-size="9.6" font-weight="bold" text-anchor="middle" textLength="43.4" lengthAdjust="spacingAndGlyphs">Time/min</text>
<text x="321.5" y="36.3" font-size="9.3" font-weight="bold">37℃</text>
<path d="M310.7 167.3L311.2 157.9L311.7 149.8L312.2 144.0L312.7 141.1L313.2 140.3L313.7 139.7L314.2 139.2L314.7 138.6L315.2 138.0L315.8 137.2L316.3 136.1L316.8 134.7L317.3 133.1L317.8 131.4L318.3 129.8L318.8 128.0L319.3 126.0L319.8 124.1L320.3 122.5L320.8 121.3L322.8 118.3L324.8 116.4L326.9 115.0L328.9 114.2L330.9 113.3L332.9 112.1L334.9 110.9L337.0 109.9L339.0 108.8L341.0 108.0L346.1 107.1L351.1 106.4L356.1 105.9L361.2 105.6L366.2 105.3L371.3 105.0L376.4 104.8L381.4 104.7L386.4 104.5L391.5 104.4L401.6 104.1L411.7 104.0L421.8 104.0L431.9 104.0L442.0 104.0L452.1 104.0L462.2 104.0L472.3 104.0L482.4 104.0L492.5 104.0L502.6 104.0L512.7 104.0" fill="none" stroke="#111111" stroke-width="0.9" stroke-linejoin="round"/>
<path d="M341.0 105.8v4.4M339.7 105.8h2.6M339.7 110.2h2.6M361.2 103.4v4.4M359.9 103.4h2.6M359.9 107.8h2.6M386.4 102.3v4.4M385.1 102.3h2.6M385.1 106.7h2.6M411.7 101.8v4.4M410.4 101.8h2.6M410.4 106.2h2.6M436.9 101.8v4.4M435.6 101.8h2.6M435.6 106.2h2.6M462.2 101.8v4.4M460.9 101.8h2.6M460.9 106.2h2.6M487.4 101.8v4.4M486.1 101.8h2.6M486.1 106.2h2.6M512.7 101.8v4.4M511.4 101.8h2.6M511.4 106.2h2.6" stroke="#111111" stroke-width="0.6" fill="none"/>
<rect x="310.9" y="139.3" width="3.6" height="3.6" fill="#111111"/><rect x="312.4" y="137.4" width="3.6" height="3.6" fill="#111111"/><rect x="313.9" y="135.4" width="3.6" height="3.6" fill="#111111"/><rect x="316.5" y="128.0" width="3.6" height="3.6" fill="#111111"/><rect x="319.0" y="119.5" width="3.6" height="3.6" fill="#111111"/><rect x="324.0" y="113.8" width="3.6" height="3.6" fill="#111111"/><rect x="329.1" y="111.5" width="3.6" height="3.6" fill="#111111"/><rect x="334.1" y="108.6" width="3.6" height="3.6" fill="#111111"/><rect x="339.2" y="106.2" width="3.6" height="3.6" fill="#111111"/><rect x="359.4" y="103.8" width="3.6" height="3.6" fill="#111111"/><rect x="384.6" y="102.7" width="3.6" height="3.6" fill="#111111"/><rect x="409.9" y="102.2" width="3.6" height="3.6" fill="#111111"/><rect x="435.1" y="102.2" width="3.6" height="3.6" fill="#111111"/><rect x="460.4" y="102.2" width="3.6" height="3.6" fill="#111111"/><rect x="485.6" y="102.2" width="3.6" height="3.6" fill="#111111"/><rect x="510.9" y="102.2" width="3.6" height="3.6" fill="#111111"/>
<path d="M310.7 167.3L311.2 158.2L311.7 150.4L312.2 144.5L312.7 141.1L313.2 139.7L313.7 138.9L314.2 137.5L314.7 132.9L315.2 126.2L315.8 122.0L316.3 120.8L316.8 120.0L317.3 119.3L317.8 118.8L318.3 118.2L318.8 117.6L319.3 117.1L319.8 116.5L320.3 116.0L320.8 115.6L322.8 114.5L324.8 113.6L326.9 112.4L328.9 110.9L330.9 109.5L332.9 108.3L334.9 107.3L337.0 106.1L339.0 104.7L341.0 103.7L346.1 102.8L351.1 102.2L356.1 101.8L361.2 101.5L366.2 101.2L371.3 100.9L376.4 100.7L381.4 100.5L386.4 100.3L391.5 100.2L401.6 100.0L411.7 99.8L421.8 99.6L431.9 99.4L442.0 99.2L452.1 99.0L462.2 98.9L472.3 98.6L482.4 98.4L492.5 98.4L502.6 98.4L512.7 98.4" fill="none" stroke="#f01818" stroke-width="0.9" stroke-linejoin="round"/>
<path d="M341.0 101.5v4.4M339.7 101.5h2.6M339.7 105.9h2.6M361.2 99.3v4.4M359.9 99.3h2.6M359.9 103.7h2.6M386.4 98.1v4.4M385.1 98.1h2.6M385.1 102.5h2.6M411.7 97.6v4.4M410.4 97.6h2.6M410.4 102.0h2.6M436.9 97.1v4.4M435.6 97.1h2.6M435.6 101.5h2.6M462.2 96.7v4.4M460.9 96.7h2.6M460.9 101.1h2.6M487.4 96.2v4.4M486.1 96.2h2.6M486.1 100.6h2.6M512.7 96.2v4.4M511.4 96.2h2.6M511.4 100.6h2.6" stroke="#f01818" stroke-width="0.6" fill="none"/>
<circle cx="312.7" cy="141.1" r="2.0" fill="#f01818"/><circle cx="314.2" cy="137.5" r="2.0" fill="#f01818"/><circle cx="315.8" cy="122.0" r="2.0" fill="#f01818"/><circle cx="318.3" cy="118.2" r="2.0" fill="#f01818"/><circle cx="320.8" cy="115.6" r="2.0" fill="#f01818"/><circle cx="325.8" cy="113.0" r="2.0" fill="#f01818"/><circle cx="330.9" cy="109.5" r="2.0" fill="#f01818"/><circle cx="335.9" cy="106.7" r="2.0" fill="#f01818"/><circle cx="341.0" cy="103.7" r="2.0" fill="#f01818"/><circle cx="361.2" cy="101.5" r="2.0" fill="#f01818"/><circle cx="386.4" cy="100.3" r="2.0" fill="#f01818"/><circle cx="411.7" cy="99.8" r="2.0" fill="#f01818"/><circle cx="436.9" cy="99.3" r="2.0" fill="#f01818"/><circle cx="462.2" cy="98.9" r="2.0" fill="#f01818"/><circle cx="487.4" cy="98.4" r="2.0" fill="#f01818"/><circle cx="512.7" cy="98.4" r="2.0" fill="#f01818"/>
<path d="M310.7 167.3L311.2 160.1L311.7 153.4L312.2 147.2L312.7 141.7L313.2 136.7L313.7 132.2L314.2 128.1L314.7 123.6L315.2 119.5L315.8 117.1L316.3 116.2L316.8 115.5L317.3 115.1L317.8 114.7L318.3 114.3L318.8 114.0L319.3 113.8L319.8 113.5L320.3 113.3L320.8 113.0L322.8 111.5L324.8 109.9L326.9 108.4L328.9 107.1L330.9 105.8L332.9 104.7L334.9 103.6L337.0 102.1L339.0 100.1L341.0 98.9L346.1 98.0L351.1 97.5L356.1 97.1L361.2 96.8L366.2 96.4L371.3 96.1L376.4 95.8L381.4 95.5L386.4 95.2L391.5 94.9L401.6 94.3L411.7 93.8L421.8 93.5L431.9 93.4L442.0 93.1L452.1 92.9L462.2 92.7L472.3 92.7L482.4 92.7L492.5 92.7L502.6 92.7L512.7 92.7" fill="none" stroke="#1c1cf0" stroke-width="0.9" stroke-linejoin="round"/>
<path d="M341.0 96.7v4.4M339.7 96.7h2.6M339.7 101.1h2.6M361.2 94.6v4.4M359.9 94.6h2.6M359.9 99.0h2.6M386.4 93.0v4.4M385.1 93.0h2.6M385.1 97.4h2.6M411.7 91.6v4.4M410.4 91.6h2.6M410.4 96.0h2.6M436.9 91.1v4.4M435.6 91.1h2.6M435.6 95.5h2.6M462.2 90.5v4.4M460.9 90.5h2.6M460.9 94.9h2.6M487.4 90.5v4.4M486.1 90.5h2.6M486.1 94.9h2.6M512.7 90.5v4.4M511.4 90.5h2.6M511.4 94.9h2.6" stroke="#1c1cf0" stroke-width="0.6" fill="none"/>
<path d="M312.7 139.2L315.1 143.6L310.3 143.6Z" fill="#1c1cf0"/><path d="M314.2 125.6L316.7 130.0L311.8 130.0Z" fill="#1c1cf0"/><path d="M315.8 114.6L318.2 119.0L313.3 119.0Z" fill="#1c1cf0"/><path d="M318.3 111.9L320.7 116.3L315.8 116.3Z" fill="#1c1cf0"/><path d="M320.8 110.6L323.2 115.0L318.4 115.0Z" fill="#1c1cf0"/><path d="M325.8 106.7L328.3 111.0L323.4 111.0Z" fill="#1c1cf0"/><path d="M330.9 103.4L333.3 107.8L328.5 107.8Z" fill="#1c1cf0"/><path d="M335.9 100.5L338.4 104.9L333.5 104.9Z" fill="#1c1cf0"/><path d="M341.0 96.5L343.4 100.8L338.6 100.8Z" fill="#1c1cf0"/><path d="M361.2 94.4L363.6 98.7L358.8 98.7Z" fill="#1c1cf0"/><path d="M386.4 92.8L388.9 97.2L384.0 97.2Z" fill="#1c1cf0"/><path d="M411.7 91.4L414.1 95.7L409.3 95.7Z" fill="#1c1cf0"/><path d="M436.9 90.8L439.4 95.2L434.5 95.2Z" fill="#1c1cf0"/><path d="M462.2 90.3L464.6 94.7L459.8 94.7Z" fill="#1c1cf0"/><path d="M487.4 90.3L489.9 94.7L485.0 94.7Z" fill="#1c1cf0"/><path d="M512.7 90.3L515.1 94.7L510.3 94.7Z" fill="#1c1cf0"/>
<path d="M310.7 167.3L311.2 156.8L311.7 147.3L312.2 139.0L312.7 132.0L313.2 125.9L313.7 120.7L314.2 117.1L314.7 114.7L315.2 112.9L315.8 111.4L316.3 110.2L316.8 109.1L317.3 108.1L317.8 107.3L318.3 106.5L318.8 105.7L319.3 105.0L319.8 104.3L320.3 103.7L320.8 103.2L322.8 101.5L324.8 100.0L326.9 98.4L328.9 96.7L330.9 95.0L332.9 93.3L334.9 91.7L337.0 90.1L339.0 88.5L341.0 87.4L346.1 85.6L351.1 84.3L356.1 83.2L361.2 82.4L366.2 81.7L371.3 81.1L376.4 80.6L381.4 80.1L386.4 79.7L391.5 79.2L401.6 78.5L411.7 78.0L421.8 77.7L431.9 77.5L442.0 77.3L452.1 77.1L462.2 76.9L472.3 76.6L482.4 76.4L492.5 76.4L502.6 76.4L512.7 76.4" fill="none" stroke="#f418e8" stroke-width="0.9" stroke-linejoin="round"/>
<path d="M341.0 85.2v4.4M339.7 85.2h2.6M339.7 89.6h2.6M361.2 80.2v4.4M359.9 80.2h2.6M359.9 84.6h2.6M386.4 77.5v4.4M385.1 77.5h2.6M385.1 81.9h2.6M411.7 75.8v4.4M410.4 75.8h2.6M410.4 80.2h2.6M436.9 75.2v4.4M435.6 75.2h2.6M435.6 79.6h2.6M462.2 74.7v4.4M460.9 74.7h2.6M460.9 79.1h2.6M487.4 74.2v4.4M486.1 74.2h2.6M486.1 78.6h2.6M512.7 74.2v4.4M511.4 74.2h2.6M511.4 78.6h2.6" stroke="#f418e8" stroke-width="0.6" fill="none"/>
<path d="M312.7 134.4L315.1 130.0L310.3 130.0Z" fill="#f418e8"/><path d="M314.2 119.5L316.7 115.1L311.8 115.1Z" fill="#f418e8"/><path d="M315.8 113.9L318.2 109.5L313.3 109.5Z" fill="#f418e8"/><path d="M318.3 108.9L320.7 104.5L315.8 104.5Z" fill="#f418e8"/><path d="M320.8 105.6L323.2 101.3L318.4 101.3Z" fill="#f418e8"/><path d="M325.8 101.7L328.3 97.3L323.4 97.3Z" fill="#f418e8"/><path d="M330.9 97.4L333.3 93.0L328.5 93.0Z" fill="#f418e8"/><path d="M335.9 93.3L338.4 89.0L333.5 89.0Z" fill="#f418e8"/><path d="M341.0 89.8L343.4 85.4L338.6 85.4Z" fill="#f418e8"/><path d="M361.2 84.8L363.6 80.5L358.8 80.5Z" fill="#f418e8"/><path d="M386.4 82.1L388.9 77.7L384.0 77.7Z" fill="#f418e8"/><path d="M411.7 80.4L414.1 76.0L409.3 76.0Z" fill="#f418e8"/><path d="M436.9 79.9L439.4 75.5L434.5 75.5Z" fill="#f418e8"/><path d="M462.2 79.3L464.6 75.0L459.8 75.0Z" fill="#f418e8"/><path d="M487.4 78.8L489.9 74.4L485.0 74.4Z" fill="#f418e8"/><path d="M512.7 78.8L515.1 74.4L510.3 74.4Z" fill="#f418e8"/>
<path d="M310.7 167.3L311.2 156.0L311.7 145.9L312.2 137.1L312.7 129.8L313.2 123.4L313.7 118.0L314.2 114.3L314.7 112.2L315.2 110.6L315.8 109.2L316.3 107.7L316.8 106.3L317.3 104.9L317.8 103.6L318.3 102.4L318.8 101.3L319.3 100.1L319.8 99.1L320.3 98.1L320.8 97.3L322.8 94.8L324.8 92.7L326.9 90.6L328.9 88.5L330.9 86.5L332.9 84.6L334.9 82.9L337.0 81.3L339.0 79.8L341.0 78.6L346.1 76.9L351.1 75.6L356.1 74.6L361.2 73.8L366.2 73.0L371.3 72.3L376.4 71.7L381.4 71.2L386.4 70.6L391.5 70.1L401.6 69.1L411.7 68.4L421.8 68.1L431.9 67.9L442.0 67.9L452.1 68.1L462.2 68.3L472.3 68.5L482.4 68.8L492.5 68.8L502.6 68.8L512.7 68.8" fill="none" stroke="#0a8a2a" stroke-width="0.9" stroke-linejoin="round"/>
<path d="M341.0 76.4v4.4M339.7 76.4h2.6M339.7 80.8h2.6M361.2 71.6v4.4M359.9 71.6h2.6M359.9 76.0h2.6M386.4 68.4v4.4M385.1 68.4h2.6M385.1 72.8h2.6M411.7 66.2v4.4M410.4 66.2h2.6M410.4 70.6h2.6M436.9 65.7v4.4M435.6 65.7h2.6M435.6 70.1h2.6M462.2 66.1v4.4M460.9 66.1h2.6M460.9 70.5h2.6M487.4 66.6v4.4M486.1 66.6h2.6M486.1 71.0h2.6M512.7 66.6v4.4M511.4 66.6h2.6M511.4 71.0h2.6" stroke="#0a8a2a" stroke-width="0.6" fill="none"/>
<path d="M312.7 127.1L315.3 129.8L312.7 132.4L310.1 129.8Z" fill="#0a8a2a"/><path d="M314.2 111.7L316.8 114.3L314.2 116.9L311.6 114.3Z" fill="#0a8a2a"/><path d="M315.8 106.6L318.4 109.2L315.8 111.8L313.1 109.2Z" fill="#0a8a2a"/><path d="M318.3 99.8L320.9 102.4L318.3 105.0L315.7 102.4Z" fill="#0a8a2a"/><path d="M320.8 94.7L323.4 97.3L320.8 99.9L318.2 97.3Z" fill="#0a8a2a"/><path d="M325.8 89.1L328.5 91.7L325.8 94.3L323.2 91.7Z" fill="#0a8a2a"/><path d="M330.9 83.8L333.5 86.5L330.9 89.1L328.3 86.5Z" fill="#0a8a2a"/><path d="M335.9 79.5L338.6 82.1L335.9 84.7L333.3 82.1Z" fill="#0a8a2a"/><path d="M341.0 76.0L343.6 78.6L341.0 81.2L338.4 78.6Z" fill="#0a8a2a"/><path d="M361.2 71.2L363.8 73.8L361.2 76.4L358.6 73.8Z" fill="#0a8a2a"/><path d="M386.4 68.0L389.1 70.6L386.4 73.2L383.8 70.6Z" fill="#0a8a2a"/><path d="M411.7 65.8L414.3 68.4L411.7 71.0L409.1 68.4Z" fill="#0a8a2a"/><path d="M436.9 65.3L439.6 67.9L436.9 70.5L434.3 67.9Z" fill="#0a8a2a"/><path d="M462.2 65.7L464.8 68.3L462.2 70.9L459.6 68.3Z" fill="#0a8a2a"/><path d="M487.4 66.2L490.1 68.8L487.4 71.4L484.8 68.8Z" fill="#0a8a2a"/><path d="M512.7 66.2L515.3 68.8L512.7 71.4L510.1 68.8Z" fill="#0a8a2a"/>
<path d="M391.6 32.0H412.3" stroke="#111111" stroke-width="0.95"/>
<rect x="400.1" y="30.1" width="3.8" height="3.8" fill="#111111"/>
<text x="415.0" y="35.5" font-size="8.8" font-weight="bold" textLength="36.8" lengthAdjust="spacingAndGlyphs">A<tspan font-size="6" dy="2.2">8</tspan><tspan dy="-2.2">S</tspan><tspan font-size="6" dy="2.2">2</tspan><tspan dy="-2.2">/N</tspan><tspan font-size="6" dy="2.2">0.4</tspan></text>
<path d="M464.9 32.0H485.9" stroke="#f01818" stroke-width="0.95"/>
<circle cx="475.4" cy="32.0" r="2.1" fill="#f01818"/>
<text x="488.6" y="35.5" font-size="8.8" font-weight="bold" textLength="36.5" lengthAdjust="spacingAndGlyphs">A<tspan font-size="6" dy="2.2">8</tspan><tspan dy="-2.2">S</tspan><tspan font-size="6" dy="2.2">2</tspan><tspan dy="-2.2">/N</tspan><tspan font-size="6" dy="2.2">0.6</tspan></text>
<path d="M391.6 44.2H412.3" stroke="#1c1cf0" stroke-width="0.95"/>
<path d="M402.0 41.6L404.5 46.3L399.4 46.3Z" fill="#1c1cf0"/>
<text x="415.0" y="47.4" font-size="8.8" font-weight="bold" textLength="36.8" lengthAdjust="spacingAndGlyphs">A<tspan font-size="6" dy="2.2">8</tspan><tspan dy="-2.2">S</tspan><tspan font-size="6" dy="2.2">2</tspan><tspan dy="-2.2">/N</tspan><tspan font-size="6" dy="2.2">0.8</tspan></text>
<path d="M464.9 44.4H485.9" stroke="#f418e8" stroke-width="0.95"/>
<path d="M475.4 47.0L478.0 42.3L472.8 42.3Z" fill="#f418e8"/>
<text x="488.6" y="47.4" font-size="8.8" font-weight="bold" textLength="36.5" lengthAdjust="spacingAndGlyphs">A<tspan font-size="6" dy="2.2">8</tspan><tspan dy="-2.2">S</tspan><tspan font-size="6" dy="2.2">2</tspan><tspan dy="-2.2">/N</tspan><tspan font-size="6" dy="2.2">1.0</tspan></text>
<path d="M391.6 56.3H412.3" stroke="#0a8a2a" stroke-width="0.95"/>
<path d="M402.0 53.5L404.7 56.3L402.0 59.1L399.2 56.3Z" fill="#0a8a2a"/>
<text x="415.0" y="59.7" font-size="8.8" font-weight="bold" textLength="36.8" lengthAdjust="spacingAndGlyphs">A<tspan font-size="6" dy="2.2">8</tspan><tspan dy="-2.2">S</tspan><tspan font-size="6" dy="2.2">2</tspan><tspan dy="-2.2">/N</tspan><tspan font-size="6" dy="2.2">1.2</tspan></text>
<path d="M28.0 271.6V308.4A51.6 8.7 0 0 0 131.2 308.4V271.6A51.6 9.6 0 0 0 28.0 271.6Z" fill="url(#cylb)" stroke="#2a9cc6" stroke-width="0.8"/>
<ellipse cx="79.6" cy="307.6" rx="48.1" ry="6.7" fill="#86d9ea" opacity="0.7"/>
<ellipse cx="79.6" cy="271.6" rx="51.3" ry="9.4" fill="#b2e7f1"/>
<ellipse cx="79.6" cy="272.5" rx="47.4" ry="7.4" fill="#7ad2e7"/>
<path d="M28.0 271.6A51.6 9.6 0 0 1 131.2 271.6" fill="none" stroke="#2a9cc6" stroke-width="0.8"/>
<path d="M40.6 284V306" stroke="#dff6fb" stroke-width="2.6" stroke-linecap="round" opacity="0.75"/>
<path d="M126.6 279V299" stroke="#dff6fb" stroke-width="1.8" stroke-linecap="round" opacity="0.8"/>
<path d="M40 284C55 287 70 290 91 296M44 299C60 292 78 287 97 282M48 306C62 302 78 304 93 310M43 271C60 268 80 271 100 277M72 267C84 272 96 280 110 282M91 275C100 273 112 272 122 269M107 266C112 280 120 292 126 302M99 294C108 292 118 290 126 285M60 279C75 276 90 278 104 286M100 300C108 303 116 304 122 303M56 312C70 306 84 300 96 290M114 268C116 276 122 282 128 286" fill="none" stroke="#1e80c6" stroke-width="1" opacity="0.85"/>
<circle cx="78.9" cy="267.5" r="1.6" fill="#f28e14"/><circle cx="77.0" cy="276.2" r="1.6" fill="#f28e14"/><circle cx="69.2" cy="279.4" r="1.6" fill="#f28e14"/><circle cx="86.2" cy="279.4" r="1.6" fill="#f28e14"/><circle cx="77.2" cy="281.3" r="1.6" fill="#f28e14"/><circle cx="68.7" cy="284.2" r="1.6" fill="#f28e14"/><circle cx="63.2" cy="285.6" r="1.6" fill="#f28e14"/><circle cx="75.6" cy="286.4" r="1.6" fill="#f28e14"/><circle cx="86.2" cy="286.4" r="1.6" fill="#f28e14"/><circle cx="68.7" cy="287.8" r="1.6" fill="#f28e14"/><circle cx="65.8" cy="291.0" r="1.6" fill="#f28e14"/><circle cx="42.5" cy="288.4" r="1.6" fill="#f28e14"/><circle cx="30.6" cy="296.5" r="1.6" fill="#f28e14"/><circle cx="89.5" cy="296.5" r="1.6" fill="#f28e14"/><circle cx="97.8" cy="282.3" r="1.6" fill="#f28e14"/><circle cx="97.8" cy="303.5" r="1.6" fill="#f28e14"/><circle cx="126.5" cy="273.3" r="1.6" fill="#f28e14"/><circle cx="86.1" cy="309.5" r="1.6" fill="#f28e14"/>
<path d="M89.9 289.3L176.5 230.6M89.9 289.3L176.5 327.2" stroke="#444" stroke-width="0.9" stroke-dasharray="2 1.5" fill="none"/>
<rect x="175.5" y="220.8" width="126.3" height="114.3" rx="14.5" fill="#d4eef5" stroke="#7a7a7a" stroke-width="0.9" stroke-dasharray="1.3 1.3"/>
<rect x="405.5" y="220.8" width="127.4" height="114.3" rx="14.5" fill="#d4eef5" stroke="#7a7a7a" stroke-width="0.9" stroke-dasharray="1.3 1.3"/>
<use href="#c1" stroke="#08087c" stroke-width="3.1"/><use href="#c1" stroke="#1414c4" stroke-width="2.2"/><use href="#c1" stroke="#3c3cf0" stroke-width="1.0" opacity="0.55"/>
<use href="#c2" stroke="#08087c" stroke-width="3.1"/><use href="#c2" stroke="#1414c4" stroke-width="2.2"/><use href="#c2" stroke="#3c3cf0" stroke-width="1.0" opacity="0.55"/>
<use href="#c3" stroke="#08087c" stroke-width="3.1"/><use href="#c3" stroke="#1414c4" stroke-width="2.2"/><use href="#c3" stroke="#3c3cf0" stroke-width="1.0" opacity="0.55"/>
<use href="#c4" stroke="#08087c" stroke-width="3.1"/><use href="#c4" stroke="#1414c4" stroke-width="2.2"/><use href="#c4" stroke="#3c3cf0" stroke-width="1.0" opacity="0.55"/>
<use href="#t" x="206.4" y="240.5"/>
<use href="#t" x="228.9" y="236.8"/>
<use href="#t" x="197.6" y="253.5"/>
<use href="#t" x="218.0" y="261.5"/>
<use href="#t" x="251.1" y="247.3"/>
<use href="#t" x="283.8" y="235.4"/>
<use href="#t" x="288.2" y="248.5"/>
<use href="#t" x="188.9" y="277.4"/>
<use href="#t" x="241.0" y="273.0"/>
<use href="#t" x="241.0" y="293.4"/>
<use href="#t" x="210.0" y="304.3"/>
<use href="#t" x="290.4" y="288.3"/>
<use href="#t" x="273.6" y="302.5"/>
<use href="#t" x="238.2" y="321.7"/>
<use href="#c5" stroke="#2c7420" stroke-width="2.6"/><use href="#c5" stroke="#52a234" stroke-width="1.7"/><use href="#c5" stroke="#84cc5c" stroke-width="0.5" opacity="0.55"/>
<use href="#c6" stroke="#2c7420" stroke-width="2.6"/><use href="#c6" stroke="#52a234" stroke-width="1.7"/><use href="#c6" stroke="#84cc5c" stroke-width="0.5" opacity="0.55"/>
<use href="#c7" stroke="#2c7420" stroke-width="2.6"/><use href="#c7" stroke="#52a234" stroke-width="1.7"/><use href="#c7" stroke="#84cc5c" stroke-width="0.5" opacity="0.55"/>
<use href="#c8" stroke="#9c1890" stroke-width="2.9"/><use href="#c8" stroke="#e044d0" stroke-width="2.0"/><use href="#c8" stroke="#f890ea" stroke-width="0.8" opacity="0.55"/>
<use href="#c9" stroke="#9c1890" stroke-width="2.9"/><use href="#c9" stroke="#e044d0" stroke-width="2.0"/><use href="#c9" stroke="#f890ea" stroke-width="0.8" opacity="0.55"/>
<use href="#c10" stroke="#9c1890" stroke-width="2.9"/><use href="#c10" stroke="#e044d0" stroke-width="2.0"/><use href="#c10" stroke="#f890ea" stroke-width="0.8" opacity="0.55"/>
<use href="#c11" stroke="#9c1890" stroke-width="2.9"/><use href="#c11" stroke="#e044d0" stroke-width="2.0"/><use href="#c11" stroke="#f890ea" stroke-width="0.8" opacity="0.55"/>
<use href="#w" x="194.0" y="233.9"/>
<use href="#w" x="220.2" y="238.0"/>
<use href="#w" x="239.8" y="252.1"/>
<use href="#w" x="205.3" y="255.7"/>
<use href="#w" x="210.4" y="263.7"/>
<use href="#w" x="271.7" y="233.9"/>
<use href="#w" x="276.3" y="247.3"/>
<use href="#w" x="195.0" y="280.7"/>
<use href="#w" x="207.4" y="296.3"/>
<use href="#w" x="229.3" y="277.4"/>
<use href="#w" x="235.7" y="282.5"/>
<use href="#w" x="229.3" y="310.4"/>
<use href="#w" x="198.8" y="316.6"/>
<use href="#w" x="266.1" y="272.3"/>
<use href="#w" x="287.2" y="286.8"/>
<use href="#w" x="287.9" y="308.3"/>
<use href="#w" x="257.0" y="320.5"/>
<use href="#t" x="422.5" y="230.3"/>
<use href="#t" x="435.3" y="239.0"/>
<use href="#t" x="463.3" y="233.2"/>
<use href="#t" x="415.3" y="261.3"/>
<use href="#t" x="506.1" y="231.3"/>
<use href="#t" x="500.8" y="244.8"/>
<use href="#t" x="518.2" y="278.5"/>
<use href="#t" x="423.7" y="304.4"/>
<use href="#t" x="441.2" y="312.7"/>
<use href="#t" x="462.8" y="321.0"/>
<use href="#t" x="507.3" y="305.9"/>
<use href="#t" x="489.8" y="316.4"/>
<use href="#w" x="434.9" y="229.1"/>
<use href="#w" x="463.6" y="229.1"/>
<use href="#w" x="448.0" y="238.0"/>
<use href="#w" x="418.9" y="254.0"/>
<use href="#w" x="485.0" y="237.1"/>
<use href="#w" x="511.2" y="242.3"/>
<use href="#w" x="505.6" y="255.7"/>
<use href="#w" x="511.0" y="265.9"/>
<use href="#w" x="417.9" y="286.5"/>
<use href="#w" x="432.3" y="311.7"/>
<use href="#w" x="448.7" y="324.4"/>
<use href="#w" x="476.4" y="314.9"/>
<use href="#w" x="496.4" y="319.0"/>
<use href="#w" x="507.7" y="322.2"/>
<use href="#w" x="516.7" y="303.6"/>
<use href="#c12" stroke="#2c7420" stroke-width="2.2"/><use href="#c12" stroke="#52a234" stroke-width="1.3"/><use href="#c12" stroke="#84cc5c" stroke-width="0.5" opacity="0.55"/>
<use href="#c13" stroke="#2c7420" stroke-width="2.2"/><use href="#c13" stroke="#52a234" stroke-width="1.3"/><use href="#c13" stroke="#84cc5c" stroke-width="0.5" opacity="0.55"/>
<use href="#c14" stroke="#9c1890" stroke-width="2.5"/><use href="#c14" stroke="#e044d0" stroke-width="1.6"/><use href="#c14" stroke="#f890ea" stroke-width="0.5" opacity="0.55"/>
<use href="#c15" stroke="#9c1890" stroke-width="2.5"/><use href="#c15" stroke="#e044d0" stroke-width="1.6"/><use href="#c15" stroke="#f890ea" stroke-width="0.5" opacity="0.55"/>
<use href="#c16" stroke="#08087c" stroke-width="2.7"/><use href="#c16" stroke="#1414c4" stroke-width="1.8"/><use href="#c16" stroke="#3c3cf0" stroke-width="0.6" opacity="0.55"/>
<use href="#c17" stroke="#08087c" stroke-width="2.7"/><use href="#c17" stroke="#1414c4" stroke-width="1.8"/><use href="#c17" stroke="#3c3cf0" stroke-width="0.6" opacity="0.55"/>
<use href="#c18" stroke="#08087c" stroke-width="2.7"/><use href="#c18" stroke="#1414c4" stroke-width="1.8"/><use href="#c18" stroke="#3c3cf0" stroke-width="0.6" opacity="0.55"/>
<use href="#c19" stroke="#08087c" stroke-width="2.7"/><use href="#c19" stroke="#1414c4" stroke-width="1.8"/><use href="#c19" stroke="#3c3cf0" stroke-width="0.6" opacity="0.55"/>
<use href="#c20" stroke="#08087c" stroke-width="2.7"/><use href="#c20" stroke="#1414c4" stroke-width="1.8"/><use href="#c20" stroke="#3c3cf0" stroke-width="0.6" opacity="0.55"/>
<path d="M312 276.5H393.6M312 279.3H393.2" stroke="#111" stroke-width="0.85" fill="none"/>
<path d="M393.8 276.8L379 271.4L381.4 276.8Z" fill="#111"/>
<path d="M311.8 278.9L327 284.3L324.8 278.9Z" fill="#111"/>
<text transform="translate(325.1 261.3) scale(1.3 1)" font-size="14.4">&gt;</text>
<text x="336.9" y="260.7" font-size="12.2" font-weight="bold" textLength="32.2" lengthAdjust="spacingAndGlyphs">LCST</text>
<text transform="translate(326.5 302.3) scale(1.3 1)" font-size="14.4">&lt;</text>
<text x="338.3" y="301.7" font-size="12.2" font-weight="bold" textLength="32.2" lengthAdjust="spacingAndGlyphs">LCST</text>
<use href="#c21" stroke="#08087c" stroke-width="3.2"/><use href="#c21" stroke="#1414c4" stroke-width="2.3"/><use href="#c21" stroke="#3c3cf0" stroke-width="1.1" opacity="0.55"/>
<use href="#c22" stroke="#2c7420" stroke-width="2.7"/><use href="#c22" stroke="#52a234" stroke-width="1.8"/><use href="#c22" stroke="#84cc5c" stroke-width="0.6" opacity="0.55"/>
<use href="#c23" stroke="#9c1890" stroke-width="3.0"/><use href="#c23" stroke="#e044d0" stroke-width="2.1"/><use href="#c23" stroke="#f890ea" stroke-width="0.9" opacity="0.55"/>
<text x="136.9" y="366.8" font-size="11.6" font-weight="bold" textLength="14.8" lengthAdjust="spacingAndGlyphs">SA</text>
<text x="203.1" y="369.4" font-size="11.6" font-weight="bold" textLength="31.3" lengthAdjust="spacingAndGlyphs">ASGP</text>
<text x="279.5" y="368.9" font-size="11.6" font-weight="bold" textLength="44.5" lengthAdjust="spacingAndGlyphs">PNIPAM</text>
<path d="M353.3 359.1L359 369.2L347.5 369.2Z" fill="url(#gt)" stroke="#f5962a" stroke-width="0.9" stroke-linejoin="round"/>
<text x="367.6" y="368.6" font-size="11.6" font-weight="bold" textLength="26.4" lengthAdjust="spacingAndGlyphs">MFH</text>
<g transform="translate(424.2 363.3) scale(1.3)"><use href="#w"/></g>
<text x="435.5" y="369.4" font-size="11.6" font-weight="bold" textLength="78" lengthAdjust="spacingAndGlyphs">Water molecule</text>
</svg>
</body></html>
